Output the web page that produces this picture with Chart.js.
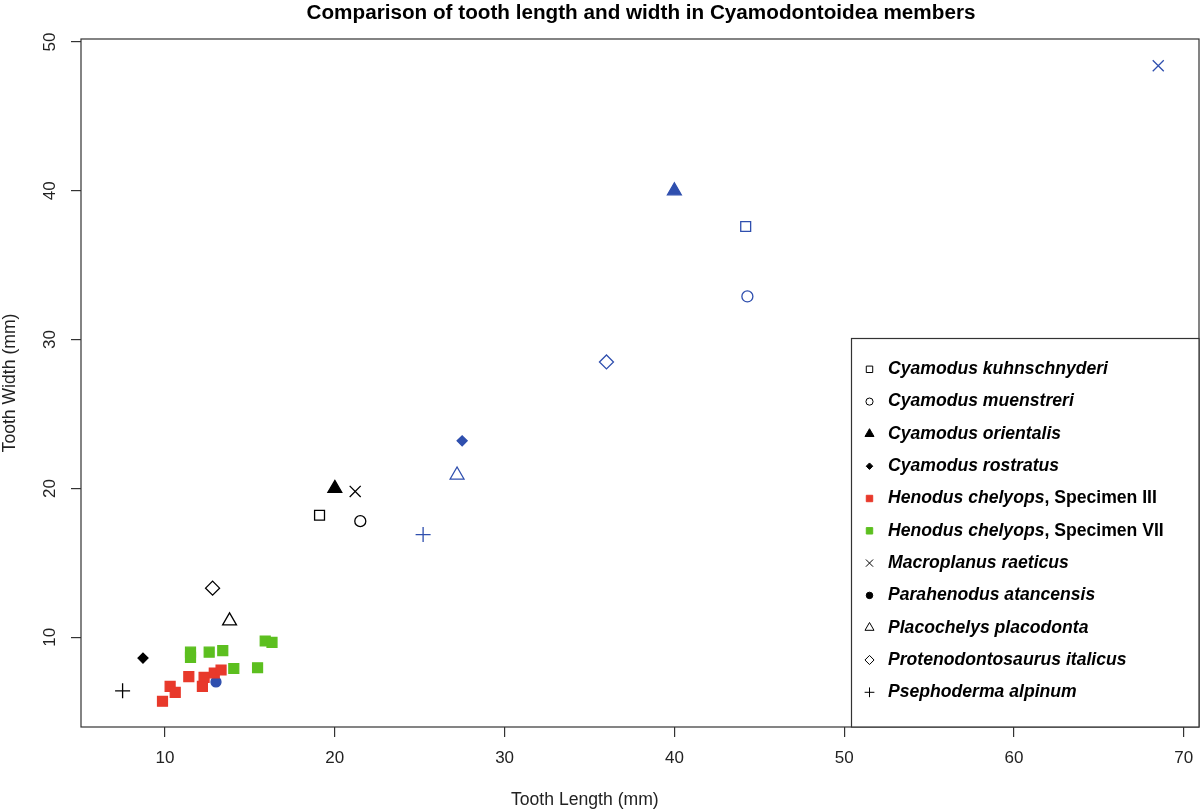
<!DOCTYPE html>
<html>
<head>
<meta charset="utf-8">
<script src="https://cdn.jsdelivr.net/npm/chart.js@4.4.1/dist/chart.umd.min.js"></script>
<style>
  body { margin: 0; background: #fff; }
  #wrap { width: 1200px; height: 810px; position: relative; }
</style>
</head>
<body>
<div id="wrap"><canvas id="toothChart"></canvas></div>
<script>
// legend order
var species = ['Cyamodus kuhnschnyderi', 'Cyamodus muenstreri', 'Cyamodus orientalis',
  'Cyamodus rostratus', 'Henodus chelyops', 'Henodus chelyops', 'Macroplanus raeticus',
  'Parahenodus atancensis', 'Placochelys placodonta', 'Protenodontosaurus italicus',
  'Psephoderma alpinum'];
var suffix = ['', '', '', '', ', Specimen III', ', Specimen VII', '', '', '', '', ''];

// one specimen drawn black, the other blue (null = none)
var blackLength = [19.1, 21.5, 20.0, 8.7, null, null, 21.2, null, 13.8, 12.8, 7.5];
var blackWidth  = [18.2, 17.8, 20.0, 8.6, null, null, 19.8, null, 11.1, 13.3, 6.4];
var blueLength  = [44.2, 44.3, 40.0, 27.5, null, null, 68.5, 13.0, 27.2, 36.0, 25.2];
var blueWidth   = [37.6, 32.9, 40.0, 23.2, null, null, 48.4, 7.0, 20.9, 28.5, 16.9];

// Henodus chelyops tooth rows
var henodus3Length = [9.85, 10.3, 10.6, 11.4, 12.2, 12.3, 12.9, 13.3];
var henodus3Width  = [5.7, 6.7, 6.3, 7.35, 6.7, 7.3, 7.6, 7.8];
var henodus7Length = [11.5, 11.5, 12.6, 13.4, 14.05, 15.45, 15.9, 16.3];
var henodus7Width  = [9.0, 8.65, 9.0, 9.1, 7.9, 7.95, 9.75, 9.65];

var xTicks = [10, 20, 30, 40, 50, 60, 70];
var yTicks = [10, 20, 30, 40, 50];

var BLACK = '#000000', BLUE = '#2f4fae', RED = '#e8392b', GREEN = '#5cbf1f';
var FONT = '"Liberation Sans", Arial, Helvetica, sans-serif';

// pch-like markers
var markers = [
  {style: 'rect', fill: false, r: 7},
  {style: 'circle', fill: false, r: 5.5},
  {style: 'triangle', fill: true, r: 8},
  {style: 'rectRot', fill: true, r: 5},
  {style: 'rect', fill: true, r: 7},
  {style: 'rect', fill: true, r: 7},
  {style: 'crossRot', fill: false, r: 7.8},
  {style: 'circle', fill: true, r: 5},
  {style: 'triangle', fill: false, r: 8},
  {style: 'rectRot', fill: false, r: 7},
  {style: 'cross', fill: false, r: 7.5}
];

var datasets = species.map(function (name, i) {
  var pts = [], cols = [];
  if (i == 4) {
    henodus3Length.forEach(function (v, j) { pts.push({x: v, y: henodus3Width[j]}); cols.push(RED); });
  } else if (i == 5) {
    henodus7Length.forEach(function (v, j) { pts.push({x: v, y: henodus7Width[j]}); cols.push(GREEN); });
  } else {
    if (blackLength[i] != null) { pts.push({x: blackLength[i], y: blackWidth[i]}); cols.push(BLACK); }
    if (blueLength[i] != null) { pts.push({x: blueLength[i], y: blueWidth[i]}); cols.push(BLUE); }
  }
  var m = markers[i];
  return {
    label: name + suffix[i],
    data: pts,
    pointStyle: m.style,
    pointRadius: m.r,
    pointHoverRadius: m.r,
    pointBorderWidth: 1.3,
    pointBorderColor: cols,
    pointBackgroundColor: m.fill ? cols : 'rgba(0,0,0,0)'
  };
});

var framePlugin = {
  id: 'frame',
  afterDatasetsDraw: function (chart) {
    var ctx = chart.ctx, a = chart.chartArea;
    ctx.save();
    ctx.strokeStyle = '#333';
    ctx.lineWidth = 1.2;
    ctx.strokeRect(a.left, a.top, a.right - a.left, a.bottom - a.top);

    // title
    ctx.fillStyle = '#000';
    ctx.textAlign = 'center';
    ctx.textBaseline = 'alphabetic';
    ctx.font = 'bold 20.7px ' + FONT;
    ctx.fillText('Comparison of tooth length and width in Cyamodontoidea members', 641, 19);

    // axis titles
    ctx.font = '17.6px ' + FONT;
    ctx.fillStyle = '#222';
    ctx.textBaseline = 'middle';
    ctx.textAlign = 'left';
    ctx.fillText('Tooth Length (mm)', 511, 800);
    ctx.save();
    ctx.translate(10, (a.top + a.bottom) / 2);
    ctx.rotate(-Math.PI / 2);
    ctx.textAlign = 'center';
    ctx.fillText('Tooth Width (mm)', 0, 0);
    ctx.restore();

    // y tick labels, rotated like R
    ctx.font = '17px ' + FONT;
    var ys = chart.scales.y;
    ys.ticks.forEach(function (t) {
      ctx.save();
      ctx.translate(50, ys.getPixelForValue(t.value));
      ctx.rotate(-Math.PI / 2);
      ctx.textAlign = 'center';
      ctx.fillText(String(t.value), 0, 0);
      ctx.restore();
    });

    // legend box
    var lx = 851.5, ly = 338.5;
    ctx.fillStyle = '#fff';
    ctx.fillRect(lx, ly, a.right - lx, a.bottom - ly);
    ctx.strokeRect(lx, ly, a.right - lx, a.bottom - ly);
    species.forEach(function (name, i) {
      var y = 369.3 + i * 32.3;
      var m = markers[i];
      var c = i == 4 ? RED : (i == 5 ? GREEN : BLACK);
      ctx.fillStyle = m.fill ? c : 'rgba(0,0,0,0)';
      ctx.strokeStyle = c;
      ctx.lineWidth = 1;
      Chart.helpers.drawPoint(ctx, {pointStyle: m.style, radius: m.r * 0.65, rotation: 0, borderWidth: 1}, 869.5, y);
      ctx.fillStyle = '#000';
      ctx.textAlign = 'left';
      ctx.textBaseline = 'middle';
      ctx.font = 'italic bold 17.6px ' + FONT;
      ctx.fillText(name, 888, y);
      if (suffix[i]) {
        var w = ctx.measureText(name).width;
        ctx.font = 'bold 17.6px ' + FONT;
        ctx.fillText(suffix[i], 888 + w, y);
      }
    });
    ctx.restore();
  }
};

new Chart(document.getElementById('toothChart'), {
  type: 'scatter',
  data: { datasets: datasets },
  options: {
    responsive: true,
    maintainAspectRatio: false,
    animation: false,
    layout: { autoPadding: false, padding: { top: 39, right: 1, left: 0, bottom: 0 } },
    plugins: { legend: { display: false }, tooltip: { enabled: false }, title: { display: false } },
    scales: {
      x: {
        type: 'linear',
        min: 5.05, max: 70.9,
        afterBuildTicks: function (s) { s.ticks = xTicks.map(function (v) { return {value: v}; }); },
        afterFit: function (s) { s.height = 83; s.paddingLeft = 0; s.paddingRight = 0; },
        grid: { drawOnChartArea: false, drawTicks: true, tickLength: 10, color: '#333', lineWidth: 1.2 },
        border: { display: false },
        ticks: { color: '#222', font: { family: FONT, size: 17 }, padding: 11, maxRotation: 0, autoSkip: false }
      },
      y: {
        type: 'linear',
        min: 3.97, max: 50.2,
        afterBuildTicks: function (s) { s.ticks = yTicks.map(function (v) { return {value: v}; }); },
        afterFit: function (s) { s.width = 81; s.paddingTop = 0; s.paddingBottom = 0; },
        grid: { drawOnChartArea: false, drawTicks: true, tickLength: 10, color: '#333', lineWidth: 1.2 },
        border: { display: false },
        ticks: { display: false }
      }
    }
  },
  plugins: [framePlugin]
});
</script>
</body>
</html>
